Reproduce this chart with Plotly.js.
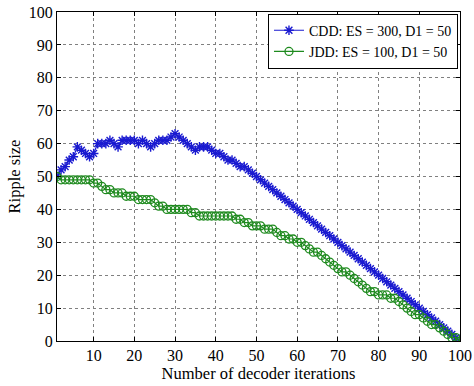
<!DOCTYPE html>
<html>
<head>
<meta charset="utf-8">
<script src="https://cdn.plot.ly/plotly-3.0.1.min.js"></script>
<style>html,body{margin:0;padding:0;background:#fff}#chart{width:474px;height:386px}</style>
</head>
<body>
<div id="chart"></div>
<script>
const iterations = Array.from({length: 100}, (_, i) => i + 1);
const cddValues = [50,52,53,55,56,59,58,57,56,57,60,60,60,61,60,59,61,61,61,61,
60,61,60,59,60,61,61,61,62,63,62,61,60,59,58,59,59,59,58,57,
57,56,55,55,54,53,53,52,51,50,49,48,47,46,45,44,43,42,41,40,
39,38,37,36,35,34,33,32,31,30,29,28,27,26,25,24,23,22,21,20,
19,18,17,16,15,14,13,12,11,10,9,8,7,6,5,4,3,2,1,0];
const jddValues = [50,49,49,49,49,49,49,49,49,48,48,47,46,46,45,45,45,44,44,44,
43,43,43,43,42,41,41,40,40,40,40,40,40,39,39,38,38,38,38,38,
38,38,38,38,37,37,36,36,35,35,35,34,34,34,33,32,32,31,31,30,
30,29,28,27,27,26,25,24,23,22,21,21,20,19,18,17,16,15,15,14,
14,14,13,13,12,11,10,9,8,8,7,6,5,5,4,3,2,1,1,0];
const seriesNames = ["CDD: ES = 300, D1 = 50", "JDD: ES = 100, D1 = 50"];
const xTicks = [10,20,30,40,50,60,70,80,90,100];
const yTicks = [0,10,20,30,40,50,60,70,80,90,100];

const fam = "Liberation Serif, Times New Roman, serif";
const font = {family: fam, color: "#000", size: 16};

const traces = [
  {x: iterations, y: cddValues, name: seriesNames[0], type: "scatter", mode: "lines+markers",
   line: {color: "#1a1ad0", width: 1.2},
   marker: {symbol: "asterisk-open", size: 8, color: "#1a1ad0", line: {color: "#1a1ad0", width: 1.4}}},
  {x: iterations, y: jddValues, name: seriesNames[1], type: "scatter", mode: "lines+markers",
   line: {color: "#1e8a1e", width: 1.2},
   marker: {symbol: "circle-open", size: 8, color: "#1e8a1e", line: {color: "#1e8a1e", width: 1.3}}}
];

const axisCommon = {
  showline: true, linecolor: "#000", linewidth: 1, mirror: "ticks",
  ticks: "inside", ticklen: 4, tickcolor: "#000",
  showgrid: true, gridcolor: "#808080", griddash: "dot", gridwidth: 1,
  zeroline: false, tickfont: font
};

const layout = {
  width: 474, height: 386,
  margin: {l: 57, r: 14, t: 12, b: 45},
  paper_bgcolor: "#fff", plot_bgcolor: "#fff",
  font: font,
  xaxis: Object.assign({}, axisCommon, {range: [1, 100], tickvals: xTicks, ticktext: xTicks.map(String),
    title: {text: "Number of decoder iterations", font: {family: fam, size: 16.5, color: "#000"}, standoff: 3}}),
  yaxis: Object.assign({}, axisCommon, {range: [0, 100], tickvals: yTicks, ticktext: yTicks.map(String),
    title: {text: "Ripple size", font: {family: fam, size: 16.5, color: "#000"}, standoff: 4}}),
  legend: {x: 0.995, y: 0.995, xanchor: "right", yanchor: "top", bgcolor: "#fff",
    bordercolor: "#000", borderwidth: 1, font: {family: fam, size: 14, color: "#000"},
    tracegroupgap: 0},
  showlegend: true
};

Plotly.newPlot("chart", traces, layout, {displayModeBar: false, staticPlot: true});
</script>
</body>
</html>
